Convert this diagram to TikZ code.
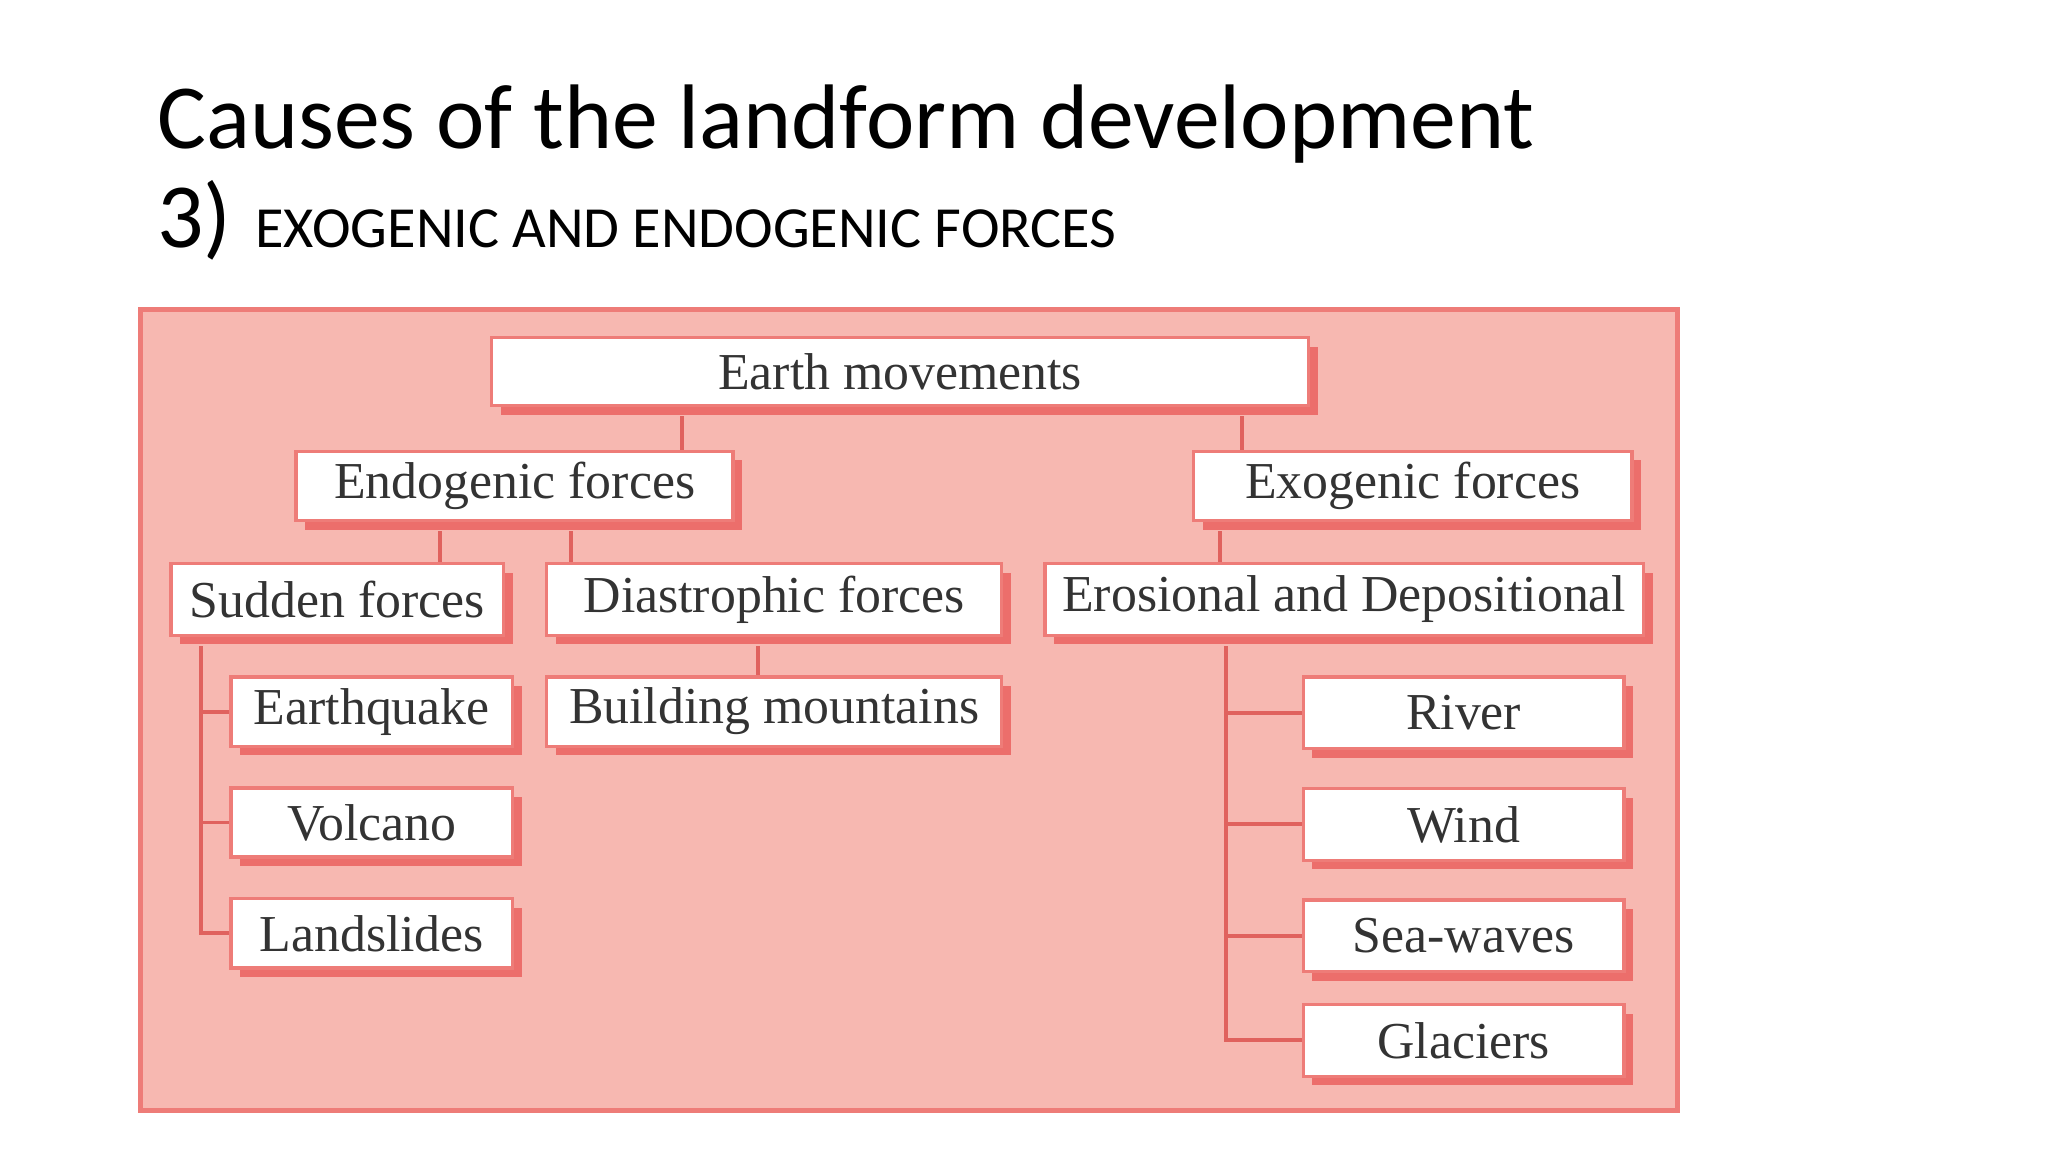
\documentclass[tikz,border=0pt]{standalone}
\usepackage{fontspec}
\setmainfont{Liberation Serif}
\newfontfamily\calib{Carlito}
\usetikzlibrary{shadows}
\definecolor{panel}{HTML}{F7B8B1}
\definecolor{pborder}{HTML}{EE7C78}
\definecolor{shred}{HTML}{EC6E6B}
\definecolor{lred}{HTML}{E0625E}
\definecolor{txt}{HTML}{333333}
\tikzset{
  box/.style={draw=pborder, line width=0.25mm, fill=white, text=txt, inner sep=0pt,
    font=\fontsize{11.3}{12}\selectfont,
    drop shadow={shadow xshift=0.7mm, shadow yshift=-0.7mm, opacity=1, fill=shred}},
  conn/.style={draw=lred, line width=0.3mm}
}
\begin{document}
\begin{tikzpicture}[x=0.1mm,y=-0.1mm]
\useasboundingbox (0,0) rectangle (1570,883);
\fill[white] (0,0) rectangle (1570,883);
\node[anchor=base west, inner sep=0pt, font=\calib\fontsize{20}{24}\selectfont] (title) at (120,114) {Causes of the landform development};
\node[anchor=base west, inner sep=0pt, font=\calib\fontsize{20}{24}\selectfont] (num) at (120,190) {3)};
\node[anchor=base west, inner sep=0pt, font=\calib\fontsize{12.7}{14}\selectfont] (sub) at (195,190) {EXOGENIC AND ENDOGENIC FORCES};
\draw[fill=panel, draw=pborder, line width=0.4mm] (108,237) rectangle (1286,851);
\node[box, minimum width=62.6mm, minimum height=5.2mm] (em) at (690,285) {Earth movements};
\node[box, minimum width=33.5mm, minimum height=5.3mm] (endo) at (394.5,372.5) {Endogenic forces};
\node[box, minimum width=33.6mm, minimum height=5.3mm] (exo) at (1083,372.5) {Exogenic forces};
\node[box, minimum width=25.5mm, minimum height=5.5mm] (sud) at (258.5,459.5) {Sudden forces};
\node[box, minimum width=34.9mm, minimum height=5.5mm] (dia) at (593.5,459.5) {Diastrophic forces};
\node[box, minimum width=45.9mm, minimum height=5.5mm] (ero) at (1030.5,459.5) {Erosional and Depositional};
\node[box, minimum width=21.6mm, minimum height=5.3mm] (eq) at (285,545.5) {Earthquake};
\node[box, minimum width=34.9mm, minimum height=5.3mm] (bm) at (593.5,545.5) {Building mountains};
\node[box, minimum width=21.6mm, minimum height=5.3mm] (vol) at (285,630.5) {Volcano};
\node[box, minimum width=21.6mm, minimum height=5.3mm] (land) at (285,715.5) {Landslides};
\node[box, minimum width=24.6mm, minimum height=5.5mm] (riv) at (1122,546.5) {River};
\node[box, minimum width=24.6mm, minimum height=5.5mm] (wind) at (1122,632) {Wind};
\node[box, minimum width=24.6mm, minimum height=5.5mm] (sea) at (1122,717.5) {Sea-waves};
\node[box, minimum width=24.6mm, minimum height=5.5mm] (gla) at (1122,797.5) {Glaciers};
\coordinate (c1) at (523,0);
\coordinate (c2) at (952,0);
\coordinate (c3) at (337,0);
\coordinate (c4) at (438,0);
\coordinate (c5) at (581,0);
\coordinate (c6) at (935,0);
\coordinate (t1) at (154,0);
\coordinate (t2) at (940,0);
\draw[conn] ([yshift=-0.7mm]em.south -| c1) -- (endo.north -| c1);
\draw[conn] ([yshift=-0.7mm]em.south -| c2) -- (exo.north -| c2);
\draw[conn] ([yshift=-0.7mm]endo.south -| c3) -- (sud.north -| c3);
\draw[conn] ([yshift=-0.7mm]endo.south -| c4) -- (dia.north -| c4);
\draw[conn] ([yshift=-0.7mm]dia.south -| c5) -- (bm.north -| c5);
\draw[conn] ([yshift=-0.7mm]exo.south -| c6) -- (ero.north -| c6);
\draw[conn] ([yshift=-0.7mm]sud.south -| t1) |- (land.west);
\draw[conn] (t1 |- eq.west) -- (eq.west);
\draw[conn] (t1 |- vol.west) -- (vol.west);
\draw[conn] ([yshift=-0.7mm]ero.south -| t2) |- (gla.west);
\draw[conn] (t2 |- riv.west) -- (riv.west);
\draw[conn] (t2 |- wind.west) -- (wind.west);
\draw[conn] (t2 |- sea.west) -- (sea.west);
\end{tikzpicture}
\end{document}
